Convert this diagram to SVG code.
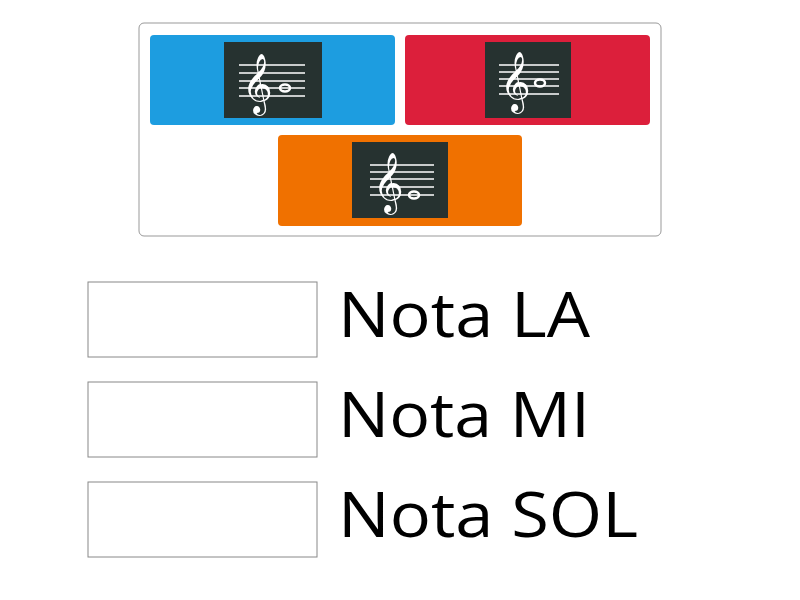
<svg xmlns="http://www.w3.org/2000/svg" width="800" height="600" viewBox="0 0 800 600">
<style>
.img{fill:#263230}
.st line{stroke:#fff;stroke-width:1.3}
.clef{fill:#fff;font-family:"DejaVu Sans",sans-serif;font-size:52px}
.note{fill:none;stroke:#fff;stroke-width:2.5}
.box{fill:#fff;stroke:#888;stroke-width:1}
.lbl{font-family:"Open Sans","Noto Sans",sans-serif;font-size:63px;fill:#000}
</style>
<rect x="139" y="23" width="522" height="213" rx="5" fill="#fff" stroke="#999"/>
<g id="tile-blue">
<rect x="150" y="35" width="245" height="90" rx="4" fill="#1d9de0"/>
<rect class="img" x="224" y="42" width="98" height="76"/>
<g class="st"><line x1="239" y1="65" x2="305" y2="65"/><line x1="239" y1="73" x2="305" y2="73"/><line x1="239" y1="81" x2="305" y2="81"/><line x1="239" y1="88" x2="305" y2="88"/><line x1="239" y1="96" x2="305" y2="96"/></g>
<text class="clef" x="242" y="101">𝄞</text>
<ellipse class="note" cx="285" cy="88" rx="5" ry="3.5"/>
</g>
<g id="tile-red">
<rect x="405" y="35" width="245" height="90" rx="4" fill="#dc1f3b"/>
<rect class="img" x="485" y="42" width="86" height="76"/>
<g class="st"><line x1="499" y1="65" x2="559" y2="65"/><line x1="499" y1="72" x2="559" y2="72"/><line x1="499" y1="79" x2="559" y2="79"/><line x1="499" y1="86" x2="559" y2="86"/><line x1="499" y1="94" x2="559" y2="94"/></g>
<text class="clef" x="500" y="99">𝄞</text>
<ellipse class="note" cx="540" cy="83" rx="5" ry="3.5"/>
</g>
<g id="tile-orange">
<rect x="278" y="135" width="244" height="91" rx="4" fill="#f07100"/>
<rect class="img" x="352" y="142" width="96" height="76"/>
<g class="st"><line x1="370" y1="165" x2="434" y2="165"/><line x1="370" y1="172" x2="434" y2="172"/><line x1="370" y1="179" x2="434" y2="179"/><line x1="370" y1="187" x2="434" y2="187"/><line x1="370" y1="195" x2="434" y2="195"/></g>
<text class="clef" x="373" y="200">𝄞</text>
<ellipse class="note" cx="414" cy="195" rx="5" ry="3.5"/>
</g>
<g id="row1"><rect class="box" x="88" y="282" width="229" height="75"/><text class="lbl" x="338" y="337" textLength="252" lengthAdjust="spacingAndGlyphs">Nota LA</text></g>
<g id="row2"><rect class="box" x="88" y="382" width="229" height="75"/><text class="lbl" x="338" y="437" textLength="252" lengthAdjust="spacingAndGlyphs">Nota MI</text></g>
<g id="row3"><rect class="box" x="88" y="482" width="229" height="75"/><text class="lbl" x="338" y="537" textLength="300" lengthAdjust="spacingAndGlyphs">Nota SOL</text></g>
</svg>
